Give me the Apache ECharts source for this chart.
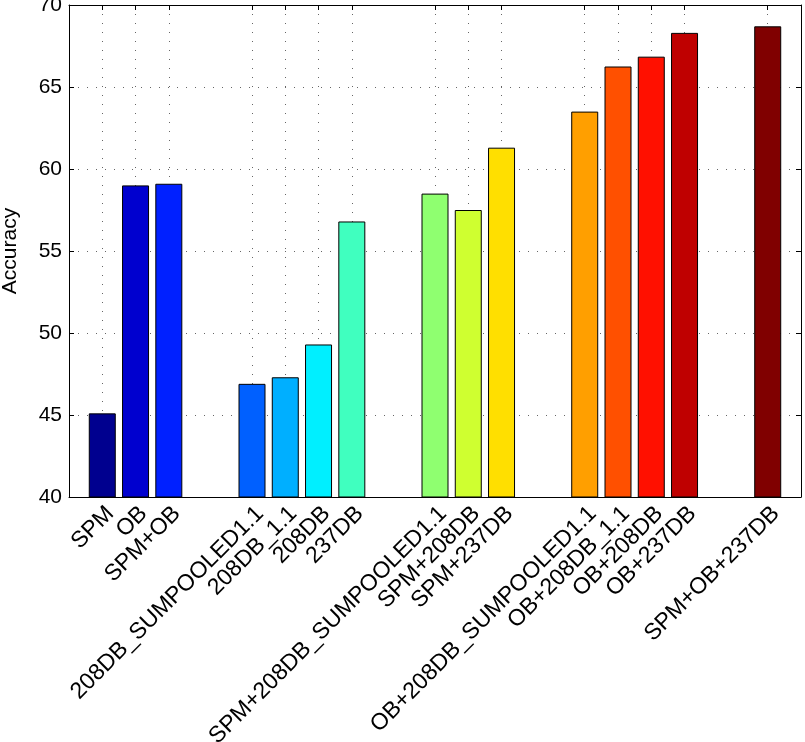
<!DOCTYPE html>
<html>
<head>
<meta charset="utf-8">
<script src="https://cdn.jsdelivr.net/npm/echarts@6/dist/echarts.min.js"></script>
<style>
html, body { margin: 0; padding: 0; background: #fff; }
#main { width: 805px; height: 742px; }
</style>
</head>
<body>
<div id="main"></div>
<script>
// 方法名称
var names = ['SPM', 'OB', 'SPM+OB',
    '208DB_SUMPOOLED1.1', '208DB_1.1', '208DB', '237DB',
    'SPM+208DB_SUMPOOLED1.1', 'SPM+208DB', 'SPM+237DB',
    'OB+208DB_SUMPOOLED1.1', 'OB+208DB_1.1', 'OB+208DB', 'OB+237DB',
    'SPM+OB+237DB'];
// 横轴位置（组之间留空）
var positions = [1, 2, 3, 5.5, 6.5, 7.5, 8.5, 11, 12, 13, 15.5, 16.5, 17.5, 18.5, 21];
// 准确率
var accuracy = [45.1, 59.0, 59.1, 46.9, 47.3, 49.3, 56.8, 58.5, 57.5, 61.3, 63.5, 66.25, 66.85, 68.3, 68.7];
var yTicks = [40, 45, 50, 55, 60, 65, 70];

// jet 色表
var colors = ['#00008F', '#0000CF', '#0020FF', '#0060FF', '#00AFFF', '#00EFFF', '#40FFBF',
    '#8FFF70', '#CFFF30', '#FFDF00', '#FF9F00', '#FF5000', '#FF1000', '#BF0000', '#800000'];

var font = 'Liberation Sans, Arial, Helvetica, sans-serif';
var gridLine = { show: true, lineStyle: { color: '#666', width: 1, type: [1, 8] } };

var barData = [];
for (var i = 0; i < names.length; i++) {
    barData.push({
        value: [positions[i], accuracy[i]],
        itemStyle: { color: colors[i] }
    });
}

var myChart = echarts.init(document.getElementById('main'));
var option = {
    animation: false,
    backgroundColor: '#fff',
    grid: { left: 69, right: 4, top: 5, bottom: 245, outerBoundsMode: 'none', containLabel: false },
    xAxis: [{
        type: 'value',
        position: 'bottom',
        min: 0,
        max: 22,
        axisLine: { show: true, onZero: false, lineStyle: { color: '#000', width: 1 } },
        axisTick: { show: true, inside: true, length: 5, customValues: positions, lineStyle: { color: '#000' } },
        axisLabel: {
            show: true,
            customValues: positions,
            rotate: 45,
            margin: 5,
            verticalAlign: 'top',
            color: '#000',
            fontSize: 23,
            fontFamily: font,
            formatter: function (v) {
                var k = positions.indexOf(v);
                return k >= 0 ? names[k] : '';
            }
        },
        splitLine: gridLine
    }, {
        type: 'value',
        position: 'top',
        min: 0,
        max: 22,
        axisLine: { show: true, onZero: false, lineStyle: { color: '#000', width: 1 } },
        axisTick: { show: true, inside: true, length: 5, customValues: positions, lineStyle: { color: '#000' } },
        axisLabel: { show: false },
        splitLine: { show: false }
    }],
    yAxis: [{
        type: 'value',
        min: 40,
        max: 70,
        interval: 5,
        name: 'Accuracy',
        nameLocation: 'middle',
        nameGap: 48,
        nameTextStyle: { color: '#000', fontSize: 21, fontFamily: font },
        axisLine: { show: true, onZero: false, lineStyle: { color: '#000', width: 1 } },
        axisTick: { show: true, inside: true, length: 5, lineStyle: { color: '#000' } },
        axisLabel: {
            color: '#000', fontSize: 21, fontFamily: font, margin: 7,
            formatter: function (v) { return yTicks.indexOf(v) >= 0 ? String(v) : ''; }
        },
        splitLine: gridLine
    }, {
        type: 'value',
        position: 'right',
        min: 40,
        max: 70,
        interval: 5,
        axisLine: { show: true, onZero: false, lineStyle: { color: '#000', width: 1 } },
        axisTick: { show: true, inside: true, length: 5, lineStyle: { color: '#000' } },
        axisLabel: { show: false },
        splitLine: { show: false }
    }],
    series: [{
        type: 'bar',
        xAxisIndex: 0,
        yAxisIndex: 0,
        barWidth: 27,
        data: barData,
        itemStyle: { borderColor: '#000', borderWidth: 1 }
    }]
};
myChart.setOption(option);
window.addEventListener('resize', function () {
    myChart.resize();
});
</script>
</body>
</html>
